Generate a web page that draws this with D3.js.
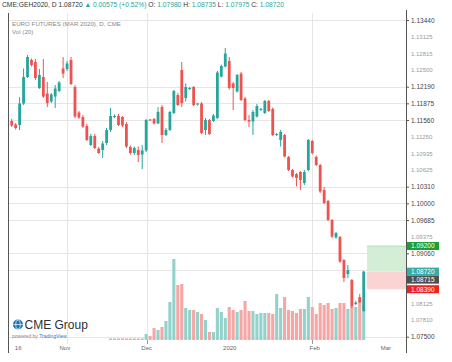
<!DOCTYPE html>
<html>
<head>
<meta charset="utf-8">
<script src="https://cdn.jsdelivr.net/npm/d3@7"></script>
<style>
body{margin:0;background:#fff;}
svg{display:block;font-family:"Liberation Sans",Arial,sans-serif;}
</style>
</head>
<body>
<div class="canvas"></div>
<script>
// daily bars, Oct 15 2019 .. Feb 2020 (index = trading day)
var opens = [
1.11544,1.11478,1.11469,1.11872,1.12369,1.12688,1.12650,1.12163,1.12369,1.12059,
1.11909,1.12003,1.12106,1.12528,1.12519,1.12688,1.12181,1.11703,1.11619,1.11450,
1.11094,1.11263,1.11028,1.11000,1.11131,1.11375,1.11619,1.11638,1.11619,1.11488,
1.11056,1.10944,1.11000,1.10916,1.10991,1.11572,1.11581,1.11497,1.11806,1.11281,
1.11375,1.11694,1.12031,1.12500,1.11975,1.12144,1.12181,1.11853,1.11872,1.11375,
1.11563,1.11544,1.11600,1.12378,1.12566,1.12669,1.12247,1.12097,1.12434,1.11966,
1.11563,1.11534,1.11628,1.11750,1.11694,1.11919,1.11769,1.11281,1.11188,1.11281,
1.10869,1.10625,1.10550,1.10588,1.10381,1.10625,1.11169,1.10869,1.10719,1.10250,
1.10044,1.09688,1.09359,1.09369,1.08938,1.08675,1.08563,1.08113,1.08244,1.07980];

var highs = [
1.11581,1.11506,1.11994,1.12528,1.12781,1.12716,1.12706,1.12519,1.12706,1.12275,
1.12069,1.12219,1.12294,1.12744,1.12669,1.12744,1.12219,1.11731,1.11656,1.11488,
1.11300,1.11300,1.11056,1.11169,1.11413,1.11788,1.11666,1.11675,1.11638,1.11525,
1.11084,1.11066,1.11066,1.11094,1.11581,1.11581,1.11600,1.11806,1.11844,1.11413,
1.11731,1.12125,1.12069,1.12650,1.12247,1.12181,1.12200,1.11881,1.11900,1.11600,
1.11581,1.11675,1.12481,1.12603,1.12913,1.12744,1.12275,1.12425,1.12463,1.11994,
1.11656,1.11750,1.11863,1.11788,1.11938,1.11938,1.11797,1.11319,1.11375,1.11300,
1.10888,1.10644,1.10569,1.10606,1.10625,1.11206,1.11188,1.10897,1.10738,1.10306,
1.10063,1.09706,1.09463,1.09388,1.08956,1.08844,1.08581,1.08169,1.08300,1.08735];

var lows = [
1.11431,1.11384,1.11375,1.11844,1.12350,1.12566,1.12313,1.12144,1.11975,1.11806,
1.11881,1.11788,1.12088,1.12350,1.12481,1.12219,1.11600,1.11581,1.11413,1.11169,
1.11075,1.11019,1.10925,1.10850,1.11094,1.11338,1.11600,1.11450,1.11431,1.11038,
1.10916,1.10906,1.10775,1.10644,1.10963,1.11544,1.11478,1.11488,1.11131,1.11263,
1.11356,1.11675,1.11825,1.11806,1.11909,1.12125,1.11825,1.11834,1.11300,1.11281,
1.11281,1.11525,1.11581,1.12359,1.12547,1.12134,1.11750,1.12078,1.11919,1.11544,
1.11431,1.11281,1.11609,1.11731,1.11675,1.11713,1.11263,1.11263,1.11066,1.10859,
1.10606,1.10484,1.10316,1.10250,1.10344,1.10606,1.10916,1.10700,1.10194,1.09988,
1.09669,1.09350,1.09341,1.08881,1.08525,1.08600,1.08038,1.08094,1.08131,1.07975];

var closes = [
1.11459,1.11413,1.11872,1.12369,1.12744,1.12594,1.12350,1.12406,1.12003,1.11881,
1.12041,1.12153,1.12266,1.12434,1.12622,1.12238,1.11628,1.11609,1.11441,1.11188,
1.11263,1.11038,1.10944,1.11122,1.11375,1.11638,1.11638,1.11469,1.11459,1.11066,
1.10944,1.11038,1.10906,1.10991,1.11563,1.11553,1.11497,1.11713,1.11281,1.11375,
1.11713,1.12106,1.11844,1.11881,1.12181,1.12163,1.11844,1.11872,1.11319,1.11563,
1.11300,1.11647,1.12453,1.12575,1.12809,1.12163,1.12163,1.12406,1.11938,1.11563,
1.11534,1.11713,1.11825,1.11769,1.11919,1.11731,1.11281,1.11300,1.11338,1.10878,
1.10625,1.10503,1.10475,1.10438,1.10588,1.11188,1.10944,1.10719,1.10222,1.10006,
1.09688,1.09378,1.09444,1.08909,1.08600,1.08750,1.08066,1.08141,1.08145,1.08720];

// volume, thousands of contracts
var volumes = [
0,0,0,0,0,0,0,0,0,0,
0,0,0,0,0,0,0,0,0,0,
0,0,0,0,0,1.5,1.5,1.5,1.5,1.5,
1.5,1.5,1.5,1.5,6,4,12,10,13,19,
38,81,55,56,32,30,30,28,26,20,
8,8,32,28,22,33,30,28,30,39,
29,29,26,27,27,27,26,46,32,43,
30,29,27,31,31,43,33,26,37,35,
37,31,32,37,37,31,33,33,40,35];

var yTickValues = [1.134375,1.13125,1.128125,1.125,1.121875,1.11875,1.115625,1.1125,1.109375,1.10625,
	1.103125,1.1,1.096875,1.09375,1.090625,1.08125,1.078125,1.075];
var yTickLabels = ["1.13440","1.13125","1.12815","1.12500","1.12190","1.11875","1.11560","1.11250","1.10935","1.10625",
	"1.10310","1.10000","1.09685","1.09375","1.09060","1.08125","1.07810","1.07500"];
var yGridValues = [1.134375,1.121875,1.11875,1.115625,1.103125,1.1,1.096875,1.090625,1.0875,1.075];

var xTickIdx = [1.5,13.3,34,55,76.5,94.5];
var xTickLabels = ["16","Nov","Dec","2020","Feb","Mar"];
var xGridIdx = [14,34.2,76];

var positionStart = 89.85;
var positionTarget = 1.092;
var positionEntry = 1.0872;
var positionStop = 1.0839;

var priceLabelValues = [1.092,1.0872,1.08715,1.0839];
var priceLabelText = ["1.09200","1.08720","1.08715","1.08390"];

var svg = d3.select(".canvas")
	.append("svg")
	.attr("width", 452)
	.attr("height", 362);

var x = d3.scaleLinear().domain([0, 89]).range([11.7, 363.7]);
var y = d3.scaleLinear().domain([1.075, 1.134375]).range([336.7, 20]);
var yVol = d3.scaleLinear().domain([0, d3.max(volumes)]).range([340, 259]);

var up = "#26a69a", down = "#ef5350";
var upVol = "#93d2cb", downVol = "#f6a7a5";

// grid
svg.append("g").selectAll("line.hg")
	.data(yGridValues).enter()
	.append("line")
	.attr("x1", 8).attr("x2", 406)
	.attr("y1", function(d){ return Math.round(y(d)) + 0.5; })
	.attr("y2", function(d){ return Math.round(y(d)) + 0.5; })
	.attr("stroke", "#e6e6e6");

svg.append("g").selectAll("line.vg")
	.data(xGridIdx).enter()
	.append("line")
	.attr("x1", function(d){ return Math.round(x(d)) + 0.5; })
	.attr("x2", function(d){ return Math.round(x(d)) + 0.5; })
	.attr("y1", 13).attr("y2", 344)
	.attr("stroke", "#e6e6e6");

// volume
svg.append("g").selectAll("rect")
	.data(volumes).enter()
	.append("rect")
	.attr("x", function(d, i){ return x(i) - 1.55; })
	.attr("width", 3.1)
	.attr("y", function(d){ return yVol(d); })
	.attr("height", function(d){ return 340 - yVol(d); })
	.attr("fill", function(d, i){ return closes[i] >= opens[i] ? upVol : downVol; });

// position tool
svg.append("rect")
	.attr("x", x(positionStart)).attr("width", 406 - x(positionStart))
	.attr("y", y(positionTarget)).attr("height", y(positionEntry) - y(positionTarget))
	.attr("fill", "#d3eed4");
svg.append("rect")
	.attr("x", x(positionStart)).attr("width", 406 - x(positionStart))
	.attr("y", y(positionEntry)).attr("height", y(positionStop) - y(positionEntry))
	.attr("fill", "#fbd3d3");
svg.append("line")
	.attr("x1", x(positionStart)).attr("x2", 406)
	.attr("y1", y(positionTarget)).attr("y2", y(positionTarget))
	.attr("stroke", "#a8dcaa").attr("stroke-width", 0.8);

// candles
var candles = svg.append("g").selectAll("g")
	.data(opens).enter()
	.append("g");

candles.append("line")
	.attr("x1", function(d, i){ return x(i); })
	.attr("x2", function(d, i){ return x(i); })
	.attr("y1", function(d, i){ return y(highs[i]); })
	.attr("y2", function(d, i){ return y(lows[i]); })
	.attr("stroke", function(d, i){ return closes[i] >= opens[i] ? up : down; })
	.attr("stroke-width", 1);

candles.append("rect")
	.attr("x", function(d, i){ return x(i) - 1.4; })
	.attr("width", 2.8)
	.attr("y", function(d, i){ return y(Math.max(opens[i], closes[i])); })
	.attr("height", function(d, i){ return Math.max(1, Math.abs(y(opens[i]) - y(closes[i]))); })
	.attr("fill", function(d, i){ return closes[i] >= opens[i] ? up : down; });

// frame lines
svg.append("line")
	.attr("x1", 8.5).attr("x2", 8.5)
	.attr("y1", 13).attr("y2", 353)
	.attr("stroke", "#555").attr("stroke-width", 1);

// price axis
var axisMajor = d3.axisRight(y)
	.tickValues(yTickValues.filter(function(v){ return yGridValues.indexOf(v) >= 0; }))
	.tickFormat(function(d){ return yTickLabels[yTickValues.indexOf(d)]; })
	.tickSize(3).tickPadding(2);
var gMajor = svg.append("g")
	.attr("transform", "translate(406,0)")
	.call(axisMajor);
gMajor.select(".domain").remove();
gMajor.selectAll("line").attr("stroke", "#555");
gMajor.selectAll("text").attr("fill", "#444").attr("font-size", "6.5px").attr("font-family", "Liberation Sans, Arial, sans-serif");

var axisMinor = d3.axisRight(y)
	.tickValues(yTickValues.filter(function(v){ return yGridValues.indexOf(v) < 0; }))
	.tickFormat(function(d){ return yTickLabels[yTickValues.indexOf(d)]; })
	.tickSize(0).tickPadding(5);
var gMinor = svg.append("g")
	.attr("transform", "translate(406,0)")
	.call(axisMinor);
gMinor.select(".domain").remove();
gMinor.selectAll("text").attr("fill", "#9a9a9a").attr("font-size", "6px").attr("font-family", "Liberation Sans, Arial, sans-serif");

svg.append("line")
	.attr("x1", 406.5).attr("x2", 406.5)
	.attr("y1", 10).attr("y2", 353)
	.attr("stroke", "#555").attr("stroke-width", 1);

// price labels on axis, stacked so they do not overlap
var labelColors = ["#1f9e35", "#3aaaa6", "#4f4f4f", "#ee2222"];
var labelH = 8, prevBottom = -100;
var labelY = priceLabelValues.map(function(v){
	var c = y(v);
	if (c - labelH / 2 < prevBottom) c = prevBottom + labelH / 2;
	prevBottom = c + labelH / 2;
	return c;
});
var plabels = svg.append("g").selectAll("g")
	.data(priceLabelValues).enter()
	.append("g")
	.attr("transform", function(d, i){ return "translate(406," + labelY[i] + ")"; });
plabels.append("rect")
	.attr("x", 1).attr("y", -labelH / 2)
	.attr("width", 32).attr("height", labelH)
	.attr("fill", function(d, i){ return labelColors[i]; });
plabels.append("text")
	.attr("x", 5).attr("y", 2.3)
	.attr("font-size", "6.5px")
	.attr("fill", "white")
	.text(function(d, i){ return priceLabelText[i]; });

// time axis
var axisX = d3.axisBottom(x)
	.tickValues(xTickIdx)
	.tickFormat(function(d, i){ return xTickLabels[i]; })
	.tickSize(0).tickPadding(2);
var gx = svg.append("g")
	.attr("transform", "translate(0,344)")
	.call(axisX);
gx.select(".domain").remove();
gx.selectAll("text").attr("fill", "#666").attr("font-size", "6px").attr("font-family", "Liberation Sans, Arial, sans-serif");

svg.append("g").selectAll("line")
	.data([34.2, 76]).enter()
	.append("line")
	.attr("x1", function(d){ return Math.round(x(d)) + 0.5; })
	.attr("x2", function(d){ return Math.round(x(d)) + 0.5; })
	.attr("y1", 340).attr("y2", 344)
	.attr("stroke", "#999");

// header
var head = svg.append("text")
	.attr("x", 2).attr("y", 7)
	.attr("font-size", "6.7px")
	.attr("fill", "#333");
head.append("tspan").text("CME:GEH2020, D  1.08720 ");
head.append("tspan").attr("fill", up).text("\u25B2  0.00575 (+0.52%)");
head.append("tspan").text("  O: ");
head.append("tspan").attr("fill", up).text("1.07980");
head.append("tspan").text("  H: ");
head.append("tspan").attr("fill", up).text("1.08735");
head.append("tspan").text("  L: ");
head.append("tspan").attr("fill", up).text("1.07975");
head.append("tspan").text("  C: ");
head.append("tspan").attr("fill", up).text("1.08720");

svg.append("text")
	.attr("x", 12).attr("y", 26)
	.attr("font-size", "6.2px")
	.attr("fill", "#8a8a8a")
	.text("EURO FUTURES (MAR 2020), D, CME");

svg.append("text")
	.attr("x", 12).attr("y", 34)
	.attr("font-size", "6.2px")
	.attr("fill", "#8a8a8a")
	.text("Vol (20)");

// CME Group mark
svg.append("circle")
	.attr("cx", 18).attr("cy", 324.5).attr("r", 5)
	.attr("fill", "#1a73b8");
svg.append("ellipse")
	.attr("cx", 18).attr("cy", 324.5).attr("rx", 2.2).attr("ry", 4.6)
	.attr("fill", "none").attr("stroke", "white").attr("stroke-width", 0.7);
svg.append("line")
	.attr("x1", 13.2).attr("x2", 22.8).attr("y1", 324.5).attr("y2", 324.5)
	.attr("stroke", "white").attr("stroke-width", 0.7);

svg.append("text")
	.attr("x", 24.5).attr("y", 329)
	.attr("font-size", "12px")
	.attr("fill", "#2f2f2f")
	.text("CME Group");

var pw = svg.append("text")
	.attr("x", 12).attr("y", 338)
	.attr("font-size", "5px")
	.attr("fill", "#888");
pw.append("tspan").text("powered by ");
pw.append("tspan").attr("fill", "#2f7bd8").text("TradingView");
</script>
</body>
</html>
